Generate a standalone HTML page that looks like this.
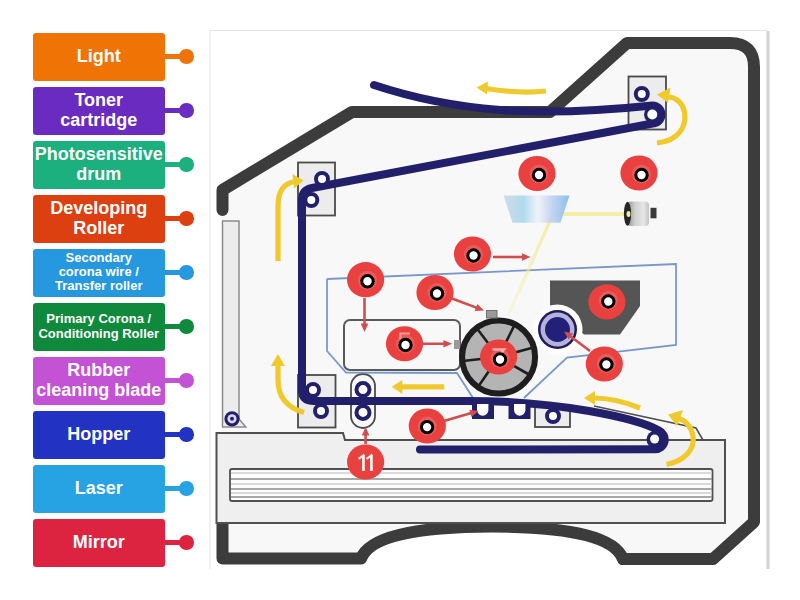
<!DOCTYPE html>
<html><head><meta charset="utf-8">
<style>
html,body{margin:0;padding:0;background:#fff;width:800px;height:600px;overflow:hidden;}
body{position:relative;font-family:"Liberation Sans",sans-serif;}
.lb{position:absolute;left:33px;width:131.5px;height:48px;border-radius:3px;color:#fff;font-weight:bold;
 display:flex;align-items:center;box-sizing:border-box;padding-bottom:3px;justify-content:center;text-align:center;font-size:18px;line-height:20px;}
.lb.s{font-size:13px;line-height:14px;}
.lb.m{font-size:13px;line-height:15px;}
.cn{position:absolute;left:164px;width:18px;height:5px;}
.dt{position:absolute;left:179px;width:14.5px;height:14.5px;border-radius:50%;}
svg{position:absolute;left:0;top:0;}
</style></head><body>
<div class="lb" style="top:33px;background:#f07305">Light</div>
<div class="cn" style="top:54px;background:#f07305"></div><div class="dt" style="top:49.25px;background:#f07305"></div>
<div class="lb" style="top:87px;background:#6a2cc0">Toner<br>cartridge</div>
<div class="cn" style="top:108px;background:#6a2cc0"></div><div class="dt" style="top:103.25px;background:#6a2cc0"></div>
<div class="lb" style="top:141px;background:#1cb07e">Photosensitive<br>drum</div>
<div class="cn" style="top:162px;background:#1cb07e"></div><div class="dt" style="top:157.25px;background:#1cb07e"></div>
<div class="lb" style="top:195px;background:#dc4010">Developing<br>Roller</div>
<div class="cn" style="top:216px;background:#dc4010"></div><div class="dt" style="top:211.25px;background:#dc4010"></div>
<div class="lb s" style="top:249px;background:#2698e0">Secondary<br>corona wire /<br>Transfer roller</div>
<div class="cn" style="top:270px;background:#2698e0"></div><div class="dt" style="top:265.25px;background:#2698e0"></div>
<div class="lb m" style="top:303px;background:#0f8a3c">Primary Corona /<br>Conditioning Roller</div>
<div class="cn" style="top:324px;background:#0f8a3c"></div><div class="dt" style="top:319.25px;background:#0f8a3c"></div>
<div class="lb" style="top:357px;background:#c452d4">Rubber<br>cleaning blade</div>
<div class="cn" style="top:378px;background:#c452d4"></div><div class="dt" style="top:373.25px;background:#c452d4"></div>
<div class="lb" style="top:411px;background:#2233c4">Hopper</div>
<div class="cn" style="top:432px;background:#2233c4"></div><div class="dt" style="top:427.25px;background:#2233c4"></div>
<div class="lb" style="top:465px;background:#27a2e2">Laser</div>
<div class="cn" style="top:486px;background:#27a2e2"></div><div class="dt" style="top:481.25px;background:#27a2e2"></div>
<div class="lb" style="top:519px;background:#dc2440">Mirror</div>
<div class="cn" style="top:540px;background:#dc2440"></div><div class="dt" style="top:535.25px;background:#dc2440"></div>

<!--SVG-->
<svg width="800" height="600" viewBox="0 0 800 600">
<defs>
<linearGradient id="mg" x1="0" x2="1" y1="0" y2="0">
<stop offset="0" stop-color="#c9d9e2"/><stop offset="0.3" stop-color="#a6d6ee"/><stop offset="0.52" stop-color="#eef3f8"/><stop offset="0.7" stop-color="#c4d4f2"/><stop offset="1" stop-color="#7db8e8"/>
</linearGradient>
<linearGradient id="lg" x1="0" x2="1" y1="0" y2="0">
<stop offset="0" stop-color="#8f8f8f"/><stop offset="0.35" stop-color="#cfcfcf"/><stop offset="0.75" stop-color="#e6e6e6"/><stop offset="1" stop-color="#c4c4c4"/>
</linearGradient>
<linearGradient id="bg" gradientUnits="userSpaceOnUse" x1="553" y1="214" x2="508" y2="316">
<stop offset="0" stop-color="#f3eca0" stop-opacity="0.95"/><stop offset="0.5" stop-color="#f3eca0" stop-opacity="0.6"/><stop offset="1" stop-color="#f3eca0" stop-opacity="0.25"/>
</linearGradient>
</defs>
<!-- frame -->
<path d="M210,569 L210,30.5 L767,30.5" fill="none" stroke="#e4e4e4" stroke-width="1"/>
<line x1="768" y1="31" x2="768" y2="569" stroke="#d2d2d2" stroke-width="3"/>
<!-- printer body fill -->
<path d="M222.5,190 L352,112 L550,112 L627,43 L730,43 Q754,43 754,67 L754,522 L713,559 L623,559 C615,538 574,527 492,526.5 C410,527 369,538 361,558 L222.5,558 Z" fill="#f8f8f8"/>
<!-- output line -->
<path d="M594,406 L696,428 L703,440" fill="none" stroke="#505050" stroke-width="1.6"/>
<!-- dark outline -->
<path d="M222.5,210 L222.5,190 L352,112 L550,112 L627,43 L730,43 Q754,43 754,67 L754,522 L713,559 L623,559 C615,538 574,527 492,526.5 C410,527 369,538 361,558.5 L222.5,558.5 L222.5,522" fill="none" stroke="#3c3c3c" stroke-width="12" stroke-linejoin="round" stroke-linecap="round"/>
<!-- tray -->
<path d="M216.5,433 L343,433 L345,440 L725,440 L725,523 L216.5,523 Z" fill="#efefef" stroke="#505050" stroke-width="2"/>
<!-- paper stack -->
<rect x="230" y="469" width="482.5" height="32" rx="2" fill="#fcfcfc" stroke="#505050" stroke-width="1.8"/>
<g stroke-width="1.3"><line x1="231" y1="473" x2="712" y2="473" stroke="#d0d0d0"/>
<line x1="231" y1="479" x2="712" y2="479" stroke="#8c8c8c"/>
<line x1="231" y1="484" x2="712" y2="484" stroke="#cfcfcf"/>
<line x1="231" y1="489" x2="712" y2="489" stroke="#8c8c8c"/>
<line x1="231" y1="493" x2="712" y2="493" stroke="#cfcfcf"/>
<line x1="231" y1="497" x2="712" y2="497" stroke="#8c8c8c"/></g>
<!-- tall left rect -->
<path d="M222.5,221 L239,221 L239,419 L245.8,427 L222.5,427 Z" fill="#ececec" stroke="#8c8c8c" stroke-width="1.5"/>
<!-- holder boxes -->
<rect x="298" y="162.5" width="37" height="53" fill="#ececec" stroke="#4a4a4a" stroke-width="1.8"/>
<rect x="628.5" y="76.5" width="37.5" height="53" fill="#ececec" stroke="#4a4a4a" stroke-width="1.8"/>
<rect x="298" y="375" width="37.5" height="52.5" fill="#ececec" stroke="#4a4a4a" stroke-width="1.8"/>
<rect x="351" y="374" width="24" height="54" rx="12" fill="none" stroke="#4a4a4a" stroke-width="1.8"/>
<rect x="535" y="405" width="35" height="22" fill="#ececec" stroke="#4a4a4a" stroke-width="1.8"/>
<!-- cartridge blue outline -->
<path d="M327,279 L676,264 L676,345 L567,357.5 L524,398 M327,279 L327,351 L346,372.5 L457,373 L473,398" fill="none" stroke="#7898cc" stroke-width="1.8"/>
<!-- developer rounded rect -->
<rect x="344" y="320" width="116" height="50" rx="6" fill="none" stroke="#5a5a5a" stroke-width="2"/>
<!-- hopper dark shape -->
<path d="M550,280.5 L640,280.5 L640,306 L620,334.5 L584,334.5 L550,305 Z" fill="#555"/>
<!-- purple roller with halo -->
<circle cx="557.5" cy="329.5" r="25" fill="#fdfdfd"/>
<circle cx="557.5" cy="329.5" r="19.5" fill="#1f1c5e"/>
<circle cx="557.5" cy="329.5" r="17" fill="#b6b3db"/>
<circle cx="557.5" cy="329.5" r="12.5" fill="#23207a"/>
<!-- drum -->
<circle cx="498.6" cy="357" r="36.5" fill="#b4b4b4" stroke="#1e1e1e" stroke-width="6"/>
<g stroke="#1e1e1e" stroke-width="2.6">
<line x1="498.6" y1="357" x2="477" y2="328.5"/>
<line x1="498.6" y1="357" x2="514.5" y2="325"/>
<line x1="498.6" y1="357" x2="533.3" y2="347.4"/>
<line x1="498.6" y1="357" x2="529.8" y2="375"/>
<line x1="498.6" y1="357" x2="478.3" y2="386.5"/>
<line x1="498.6" y1="357" x2="462.8" y2="361"/>
</g>
<rect x="486.5" y="310.5" width="10.5" height="7.5" fill="#9a9a9a" stroke="#6f6f6f" stroke-width="1"/>
<rect x="454" y="340" width="6" height="9" fill="#9a9a9a"/>
<!-- laser beam -->
<path d="M627,214 L553,214" fill="none" stroke="#f3eca0" stroke-width="3.8" opacity="0.95"/>
<path d="M553,214 L508,316" fill="none" stroke="url(#bg)" stroke-width="3.4"/>
<!-- mirror -->
<path d="M503.5,195.5 L569.5,195.5 L560.5,222.7 L512.5,222.7 Z" fill="url(#mg)" opacity="0.88"/>
<!-- laser device -->
<rect x="627" y="201.5" width="22" height="24.5" rx="4" fill="url(#lg)"/>
<rect x="650.5" y="207.8" width="6" height="10.5" fill="#3a3a3a"/>
<ellipse cx="627.5" cy="213.8" rx="3.6" ry="12" fill="#262626"/>
<ellipse cx="628.5" cy="214" rx="2" ry="3" fill="#f3eca0"/>
<!-- belts -->
<g fill="none" stroke="#23206b" stroke-width="8" stroke-linecap="round" stroke-linejoin="round">
<path d="M374,85 C410,97 450,106 500,110 C540,113 590,112 652.5,105.5 A9,9 0 0 1 652.5,123.5 L312,188 Q302,190 302,200 L302,390 Q302,401 314,401 L460,401 C560,400 638,419 658.8,430.5 A9.8,9.8 0 0 1 654.6,449.3 L420,449.5"/>
</g>
<!-- rollers -->
<g fill="#fff" stroke="#23206b" stroke-width="4">
<circle cx="641.8" cy="94" r="6"/>
<circle cx="322" cy="179" r="6"/>
<circle cx="311.3" cy="200" r="6"/>
<circle cx="313" cy="390" r="6"/>
<circle cx="321" cy="411" r="6"/>
<circle cx="363" cy="389.6" r="6.5"/>
<circle cx="363" cy="412.4" r="6.5"/>
<circle cx="553" cy="416" r="6"/>
</g>
<circle cx="653" cy="114.5" r="9" fill="#23206b"/><circle cx="652.3" cy="114.5" r="5" fill="#fff"/>
<circle cx="655.5" cy="439.5" r="9" fill="#23206b"/><circle cx="654.6" cy="439" r="4.5" fill="#fff"/>
<circle cx="232" cy="418.8" r="7.6" fill="#23206b"/><circle cx="232" cy="418.8" r="4.6" fill="#dcd8f2"/><circle cx="232" cy="418.8" r="2" fill="#23206b"/>
<!-- navy blocks -->
<path d="M472,400 L494,400 L494,419 L472,419 Z M508.5,400 L530.5,400 L530.5,419 L508.5,419 Z" fill="#23206b"/>
<path d="M477,404 L488.4,404 L488.4,410 A5.7,5.7 0 0 1 477,410 Z M514,404 L525.4,404 L525.4,410 A5.7,5.7 0 0 1 514,410 Z" fill="#fff"/>
<!-- yellow arrows -->
<g fill="none" stroke="#f0c92c" stroke-width="5.2" stroke-linecap="butt">
<path d="M546,91 Q520,94 486,88.5"/>
<path d="M657,143 C678,141 687,127 684.5,112 C682.5,103 676,97.5 667,96.5"/>
<path d="M278,261 L278,206 Q278,184 295,181.5"/>
<path d="M304,412.5 Q278,405 278,380 L278,364"/>
<path d="M444.3,386.8 L402,386.8"/>
<path d="M640,408 Q615,398 594,398"/>
<path d="M666.5,464.5 C685,461 695,449 693,436 C691,426 685,420 677,418"/>
</g>
<g fill="#f0c92c">
<path d="M476.5,87.5 L488,81.5 L487,94.5 Z"/>
<path d="M657,94.5 L670.5,87.5 L668,103 Z"/>
<path d="M303.5,180.5 L292.5,174 L294,188.5 Z"/>
<path d="M278,354 L271,366 L285,366 Z"/>
<path d="M391.8,386.8 L402.3,380 L402.3,394 Z"/>
<path d="M584,398 L595,391 L595,405 Z"/>
<path d="M668,414.5 L683,410 L677,426 Z"/>
</g>
<!-- red arrows -->
<g stroke="#cf4d4c" stroke-width="2.6" fill="none">
<line x1="493" y1="257" x2="523.0" y2="257.0"/>
<line x1="364.5" y1="298" x2="364.5" y2="324.5"/>
<line x1="452" y1="298.5" x2="477.0" y2="307.9"/>
<line x1="423" y1="343.75" x2="444.5" y2="343.8"/>
<line x1="590" y1="351" x2="570.0" y2="336.0"/>
<line x1="444" y1="421" x2="471.3" y2="413.1"/>
<line x1="365.6" y1="444" x2="365.6" y2="434.5"/>
</g>
<g fill="#cf4d4c">
<path d="M530.5,257.0 L522.0,260.8 L522.0,253.2 Z"/>
<path d="M364.5,332.0 L360.7,323.5 L368.3,323.5 Z"/>
<path d="M484.0,310.5 L474.7,311.1 L477.4,304.0 Z"/>
<path d="M452.0,343.8 L443.5,347.6 L443.5,339.9 Z"/>
<path d="M564.0,331.5 L573.1,333.6 L568.5,339.6 Z"/>
<path d="M478.5,411.0 L471.4,417.0 L469.3,409.7 Z"/>
<path d="M365.6,427.0 L369.4,435.5 L361.8,435.5 Z"/>
</g>
<!-- markers -->
<ellipse cx="537" cy="173.5" rx="18.6" ry="17.6" fill="#e8413f"/>
<circle cx="539" cy="174.0" r="9.5" fill="#f6a9a6" opacity="0.25"/><circle cx="539" cy="175" r="5.7" fill="#fff" stroke="#000" stroke-width="3"/>
<ellipse cx="639" cy="173" rx="18.6" ry="17.6" fill="#e8413f"/>
<circle cx="641.5" cy="174.0" r="9.5" fill="#f6a9a6" opacity="0.25"/><circle cx="641.5" cy="175" r="5.7" fill="#fff" stroke="#000" stroke-width="3"/>
<ellipse cx="472.5" cy="254" rx="18.6" ry="17.6" fill="#e8413f"/>
<circle cx="473.5" cy="254.5" r="9.5" fill="#f6a9a6" opacity="0.25"/><circle cx="473.5" cy="255.5" r="5.7" fill="#fff" stroke="#000" stroke-width="3"/>
<ellipse cx="365.6" cy="279.7" rx="18.6" ry="17.6" fill="#e8413f"/>
<circle cx="367.5" cy="280.3" r="9.5" fill="#f6a9a6" opacity="0.25"/><circle cx="367.5" cy="281.3" r="5.7" fill="#fff" stroke="#000" stroke-width="3"/>
<ellipse cx="435" cy="292.5" rx="18.6" ry="17.6" fill="#e8413f"/>
<circle cx="437" cy="292.5" r="9.5" fill="#f6a9a6" opacity="0.25"/><circle cx="437" cy="293.5" r="5.7" fill="#fff" stroke="#000" stroke-width="3"/>
<ellipse cx="404.5" cy="343.75" rx="18.6" ry="17.6" fill="#e8413f"/><path d="M410,333.5 L400.5,333.5 L400,339" fill="none" stroke="#f7b4b0" stroke-width="2.2" opacity="0.8"/>
<circle cx="405.5" cy="344.0" r="9.5" fill="#f6a9a6" opacity="0.25"/><circle cx="405.5" cy="345" r="5.7" fill="#fff" stroke="#000" stroke-width="3"/>
<ellipse cx="498.6" cy="357" rx="18.6" ry="17.6" fill="#e8413f"/><path d="M492.5,349.5 L504,349.5 L499,356" fill="none" stroke="#f7b4b0" stroke-width="2.5"/>
<circle cx="500" cy="358.5" r="9.5" fill="#f6a9a6" opacity="0.25"/><circle cx="500" cy="359.5" r="5.7" fill="#fff" stroke="#000" stroke-width="3"/>
<ellipse cx="606.9" cy="301.9" rx="18.6" ry="17.6" fill="#e8413f"/>
<circle cx="608.3" cy="300.5" r="9.5" fill="#f6a9a6" opacity="0.25"/><circle cx="608.3" cy="301.5" r="5.7" fill="#fff" stroke="#000" stroke-width="3"/>
<ellipse cx="604.3" cy="364" rx="18.6" ry="17.6" fill="#e8413f"/>
<circle cx="606.4" cy="363.5" r="9.5" fill="#f6a9a6" opacity="0.25"/><circle cx="606.4" cy="364.5" r="5.7" fill="#fff" stroke="#000" stroke-width="3"/>
<ellipse cx="427.3" cy="426" rx="18.6" ry="17.6" fill="#e8413f"/>
<circle cx="427.1" cy="426.1" r="9.5" fill="#f6a9a6" opacity="0.25"/><circle cx="427.1" cy="427.1" r="5.7" fill="#fff" stroke="#000" stroke-width="3"/>
<ellipse cx="365.6" cy="462" rx="18.6" ry="17.6" fill="#e8413f"/>
<path d="M363.4,471 L363.4,455.5 M371.4,471 L371.4,455.5" fill="none" stroke="#fff3f0" stroke-width="2.7"/><path d="M364.4,454.6 L358.6,458.8 M372.4,454.6 L366.6,458.8" fill="none" stroke="#fff3f0" stroke-width="2.2"/>
</svg>
</body></html>
